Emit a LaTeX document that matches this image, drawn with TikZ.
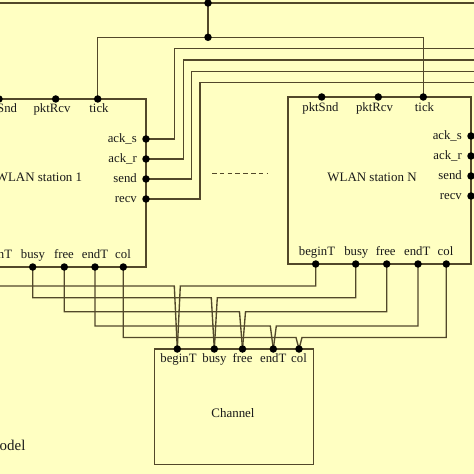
\documentclass[tikz,border=0pt]{standalone}
\usepackage{fontspec}
\setmainfont{Liberation Serif}
\usetikzlibrary{calc}
\definecolor{bgyel}{RGB}{255,255,194}
\definecolor{wire}{RGB}{82,72,42}
\begin{document}
\begin{tikzpicture}[x=1bp,y=-1bp,
  wireline/.style={draw=wire,line width=1.35bp},
  box/.style={draw=wire,line width=1.35bp,inner sep=0,outer sep=0,anchor=north west},
  portdot/.style={circle,fill=black,inner sep=0,minimum size=7.5bp},
  lbl/.style={inner sep=0,font=\fontsize{12.8}{14}\selectfont,text=black!90},
  ttl/.style={inner sep=0,font=\fontsize{13}{15}\selectfont,text=black!90}]
\useasboundingbox (0,0) rectangle (474,474);
\fill[bgyel] (0,0) rectangle (474,474);
\clip (0,0) rectangle (474,474);

% boxes
\node[box,minimum width=181bp,minimum height=168bp] (st1) at (-35,99) {};
\node[box,minimum width=183bp,minimum height=167bp] (stN) at (288,97) {};
\node[box,minimum width=159bp,minimum height=115.3bp] (chan) at (154.3,349) {};

% ports station 1
\coordinate (s1pktSnd) at (-1,99);
\coordinate (s1pktRcv) at (55.7,99);
\coordinate (s1tick) at (97.7,99);
\coordinate (s1acks) at (146,139);
\coordinate (s1ackr) at (146,159);
\coordinate (s1send) at (146,179);
\coordinate (s1recv) at (146,199);
\coordinate (s1beginT) at (-7,267);
\coordinate (s1busy) at (32.7,267);
\coordinate (s1free) at (64.3,267);
\coordinate (s1endT) at (95,267);
\coordinate (s1col) at (123.3,267);
% ports station N
\coordinate (snpktSnd) at (321.7,97);
\coordinate (snpktRcv) at (378.3,97);
\coordinate (sntick) at (423.3,97);
\coordinate (snacks) at (471,136);
\coordinate (snackr) at (471,156);
\coordinate (snsend) at (471,176);
\coordinate (snrecv) at (471,196);
\coordinate (snbeginT) at (315.7,264);
\coordinate (snbusy) at (355.7,264);
\coordinate (snfree) at (386.7,264);
\coordinate (snendT) at (418,264);
\coordinate (sncol) at (446.3,264);
% ports channel
\coordinate (chbeginT) at (177.3,349);
\coordinate (chbusy) at (214.3,349);
\coordinate (chfree) at (242.5,349);
\coordinate (chendT) at (273.3,349);
\coordinate (chcol) at (299,349);

% top wires
\coordinate (topL) at (0,3);
\coordinate (topR) at (474,3);
\coordinate (clk) at (208,3);
\coordinate (clkj) at (208,37.3);
\coordinate (tacks) at (174.3,48.3);
\coordinate (tackr) at (183.3,60);
\coordinate (tsend) at (191.7,71.7);
\coordinate (trecv) at (200,82.7);
\coordinate (oacks) at (474,48.3);
\coordinate (oackr) at (474,60);
\coordinate (osend) at (474,71.7);
\coordinate (orecv) at (474,82.7);

\draw[wireline] (topL) -- (topR);
\draw[wireline] (clk) -- (clkj);
\draw[wireline] (s1tick) |- (clkj) -| (sntick);
\draw[wireline] (s1acks) -| (tacks) -- (oacks);
\draw[wireline] (s1ackr) -| (tackr) -- (oackr);
\draw[wireline] (s1send) -| (tsend) -- (osend);
\draw[wireline] (s1recv) -| (trecv) -- (orecv);

% bottom wires
\foreach \p/\d in {beginT/63,busy/51.3,free/37.3,endT/23,col/11.5}{
  \draw[wireline] (s1\p) |- ($(ch\p)+(-3,-\d)$) -- (ch\p);
  \draw[wireline] (sn\p) |- ($(ch\p)+(3,-\d)$) -- (ch\p);
}

% dashes
\coordinate (dashL) at (212,173.3);
\coordinate (dashR) at (268.3,173.3);
\draw[wireline,dash pattern=on 4.5bp off 3.3bp] (dashL) -- (dashR);

% dots
\foreach \c in {s1pktSnd,s1pktRcv,s1tick,s1acks,s1ackr,s1send,s1recv,s1beginT,s1busy,s1free,s1endT,s1col,
  snpktSnd,snpktRcv,sntick,snacks,snackr,snsend,snrecv,snbeginT,snbusy,snfree,snendT,sncol,
  chbeginT,chbusy,chfree,chendT,chcol,clk,clkj}{
  \node[portdot] (d\c) at (\c) {};
}

% labels station 1
\node[lbl,anchor=base] (l1pktSnd) at (-1,113) {pktSnd};
\node[lbl,anchor=base] (l1pktRcv) at (52,113) {pktRcv};
\node[lbl,anchor=base] (l1tick) at (99,113) {tick};
\node[lbl,anchor=base east] (l1acks) at (137,143) {ack\_s};
\node[lbl,anchor=base east] (l1ackr) at (137,163) {ack\_r};
\node[lbl,anchor=base east] (l1send) at (137,183) {send};
\node[lbl,anchor=base east] (l1recv) at (137,203) {recv};
\node[lbl,anchor=base] (l1beginT) at (-6,258) {beginT};
\node[lbl,anchor=base] (l1busy) at (33,258) {busy};
\node[lbl,anchor=base] (l1free) at (64,258) {free};
\node[lbl,anchor=base] (l1endT) at (95,258) {endT};
\node[lbl,anchor=base] (l1col) at (123,258) {col};
\node[ttl,anchor=base] (t1) at (39,182) {WLAN station 1};
% labels station N
\node[lbl,anchor=base] (lnpktSnd) at (320.5,111.5) {pktSnd};
\node[lbl,anchor=base] (lnpktRcv) at (374.5,111.5) {pktRcv};
\node[lbl,anchor=base] (lntick) at (424.5,111.5) {tick};
\node[lbl,anchor=base east] (lnacks) at (462,140) {ack\_s};
\node[lbl,anchor=base east] (lnackr) at (462,160) {ack\_r};
\node[lbl,anchor=base east] (lnsend) at (462,180) {send};
\node[lbl,anchor=base east] (lnrecv) at (462,200) {recv};
\node[lbl,anchor=base] (lnbeginT) at (317,255.5) {beginT};
\node[lbl,anchor=base] (lnbusy) at (356.3,255.5) {busy};
\node[lbl,anchor=base] (lnfree) at (385.7,255.5) {free};
\node[lbl,anchor=base] (lnendT) at (417.3,255.5) {endT};
\node[lbl,anchor=base] (lncol) at (445.5,255.5) {col};
\node[ttl,anchor=base] (tN) at (372,182) {WLAN station N};
% labels channel
\node[lbl,anchor=base] (lcbeginT) at (178.5,362) {beginT};
\node[lbl,anchor=base] (lcbusy) at (214.5,362) {busy};
\node[lbl,anchor=base] (lcfree) at (242.5,362) {free};
\node[lbl,anchor=base] (lcendT) at (273.3,362) {endT};
\node[lbl,anchor=base] (lccol) at (299,362) {col};
\node[ttl,anchor=base] (tc) at (233,417) {Channel};
\node[inner sep=0,anchor=base west,font=\fontsize{15}{17}\selectfont,text=black!90] (cap) at (-0.5,450) {odel};
\end{tikzpicture}
\end{document}
